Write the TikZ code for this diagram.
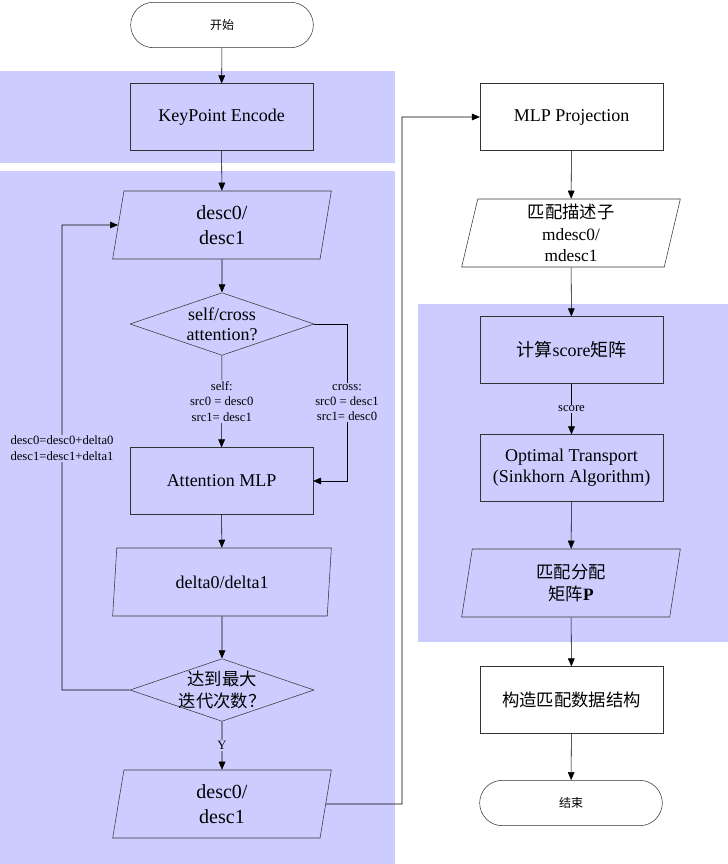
\documentclass[tikz,border=0pt]{standalone}
\usepackage{fontspec}
\setmainfont{Liberation Serif}
\newfontfamily\cjk{Noto Sans CJK SC}
\usetikzlibrary{shapes.geometric,arrows.meta}
\definecolor{band}{HTML}{CCCCFF}
\begin{document}
\begin{tikzpicture}[x=0.75pt,y=-0.75pt,
  box/.style={draw=black!80,minimum width=137pt,minimum height=50pt,align=center,font=\fontsize{13.5}{16}\selectfont},
  para/.style={draw=black!80,trapezium,trapezium left angle=75,trapezium right angle=105,trapezium stretches body=true,minimum width=164pt,minimum height=51pt,align=center,inner sep=1pt},
  dia/.style={draw=black!80,diamond,aspect=3,minimum width=138pt,minimum height=47pt,inner sep=0pt,align=center,font=\fontsize{13.5}{15}\selectfont},
  term/.style={draw=black!80,rounded corners=17pt,minimum width=137pt,minimum height=34pt,font=\cjk\fontsize{9}{11}\selectfont},
  arr/.style={-{Triangle[length=6pt,width=5pt]},black},
  lab/.style={font=\fontsize{9.5}{11.5}\selectfont,align=center,fill=band,inner sep=1pt}]
\useasboundingbox (0,0) rectangle (728,864);
\fill[band] (0,71) rectangle (395,163);
\fill[band] (0,171) rectangle (395,864);
\fill[band] (418,304) rectangle (728,642);

\node[term] (start) at (222,25) {开始};
\node[box] (kp) at (221.5,117) {KeyPoint Encode};
\node[para,font=\fontsize{15}{19}\selectfont] (d1) at (222,225) {desc0/\\desc1};
\node[dia] (sc) at (222,324) {self/cross\\attention?};
\node[box] (att) at (221.5,481) {Attention MLP};
\node[para,font=\fontsize{13.5}{15}\selectfont] (dl) at (222,582) {delta0/delta1};
\node[dia,inner sep=-5pt,font=\cjk\fontsize{13}{16}\selectfont] (mx) at (222,690) {达到最大\\迭代次数？};
\node[para,font=\fontsize{15}{19}\selectfont] (d2) at (222,804) {desc0/\\desc1};

\node[box,fill=white] (mlp) at (571.5,117) {MLP Projection};
\node[para,fill=white,font=\fontsize{13}{16}\selectfont] (md) at (571,233) {{\cjk 匹配描述子}\\mdesc0/\\mdesc1};
\node[box] (score) at (571.5,350) {{\cjk 计算}score{\cjk 矩阵}};
\node[box] (ot) at (571.5,468) {Optimal Transport\\(Sinkhorn Algorithm)};
\node[para,font=\fontsize{13}{16}\selectfont] (P) at (571,583) {{\cjk 匹配分配}\\{\cjk 矩阵}\textbf{P}};
\node[box,font=\cjk\fontsize{13}{15}\selectfont] (bld) at (571.5,700) {构造匹配数据结构};
\node[term] (end) at (571,803) {结束};

\coordinate (c1) at (347,324);
\coordinate (c2) at (347,481);
\coordinate (l1) at (62,690);
\coordinate (l2) at (62,225);
\coordinate (r1) at (402,804);
\coordinate (r2) at (402,117);

\draw[arr] (start) -- (kp);
\draw[arr] (kp) -- (d1);
\draw[arr] (d1) -- (sc);
\draw[arr] (sc) -- node[lab]{self:\\src0 = desc0\\src1= desc1} (att);
\draw[arr] (sc.east) -- (c1) -- node[lab]{cross:\\src0 = desc1\\src1= desc0} (c2) -- (att.east);
\draw[arr] (att) -- (dl);
\draw[arr] (dl) -- (mx);
\draw[arr] (mx.west) -- (l1) -- node[lab,pos=0.52]{desc0=desc0+delta0\\desc1=desc1+delta1} (l2) -- (d1.west);
\draw[arr] (mx) -- node[lab]{Y} (d2);
\draw[arr] (d2.east) -- (r1) -- (r2) -- (mlp.west);
\draw[arr] (mlp) -- (md);
\draw[arr] (md) -- (score);
\draw[arr] (score) -- node[lab]{score} (ot);
\draw[arr] (ot) -- (P);
\draw[arr] (P) -- (bld);
\draw[arr] (bld) -- (end);
\end{tikzpicture}
\end{document}
